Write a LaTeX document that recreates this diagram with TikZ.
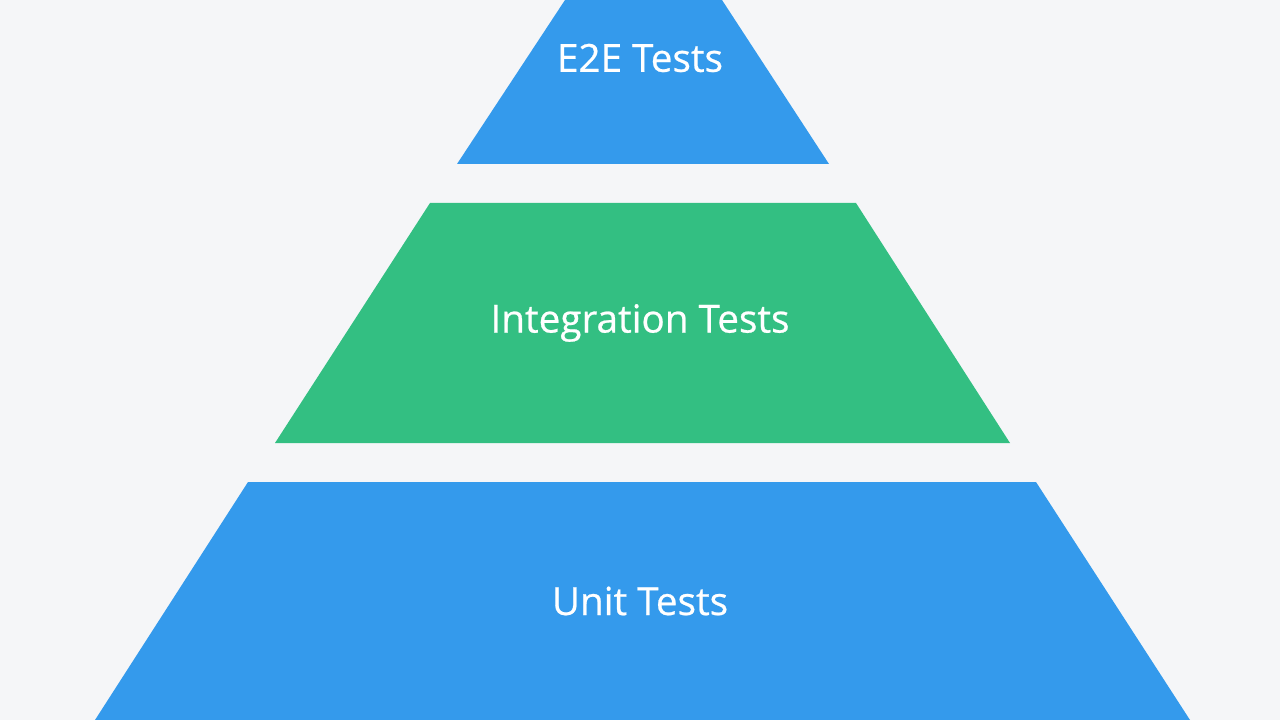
\documentclass[tikz,border=0pt]{standalone}
\usepackage{fontspec}
\setmainfont{Open Sans}
\definecolor{bgcol}{RGB}{245,246,248}
\definecolor{tierblue}{RGB}{52,154,236}
\definecolor{tiergreen}{RGB}{51,191,130}
\tikzset{every picture/.style={line width=0.75pt}}

\begin{document}
\begin{tikzpicture}[x=0.75pt,y=0.75pt,yscale=-1,xscale=1]
\fill[bgcol] (0,0) rectangle (1280,720);
\useasboundingbox (0,0) rectangle (1280,720);

%Shape: Trapezoid top
\fill [tierblue] (565,0) -- (722,0) -- (829,164) -- (457,164) -- cycle ;
%Shape: Trapezoid middle
\fill [tiergreen] (430,203) -- (856,203) -- (1010,443) -- (275,443) -- cycle ;
%Shape: Trapezoid bottom
\fill [tierblue] (248,482) -- (1036,482) -- (1190,720) -- (95,720) -- cycle ;

% Text Node
\draw (640,58) node (e2e) [inner sep=0.75pt,text=white,font=\fontsize{29}{34}\selectfont] {\addfontfeature{FakeBold=0.6}E2E Tests};
% Text Node
\draw (640,323) node (integ) [inner sep=0.75pt,text=white,font=\fontsize{29}{34}\selectfont] {\addfontfeature{FakeBold=0.6}Integration Tests};
% Text Node
\draw (640,601) node (unit) [inner sep=0.75pt,text=white,font=\fontsize{29}{34}\selectfont] {\addfontfeature{FakeBold=0.6}Unit Tests};
\end{tikzpicture}
\end{document}
